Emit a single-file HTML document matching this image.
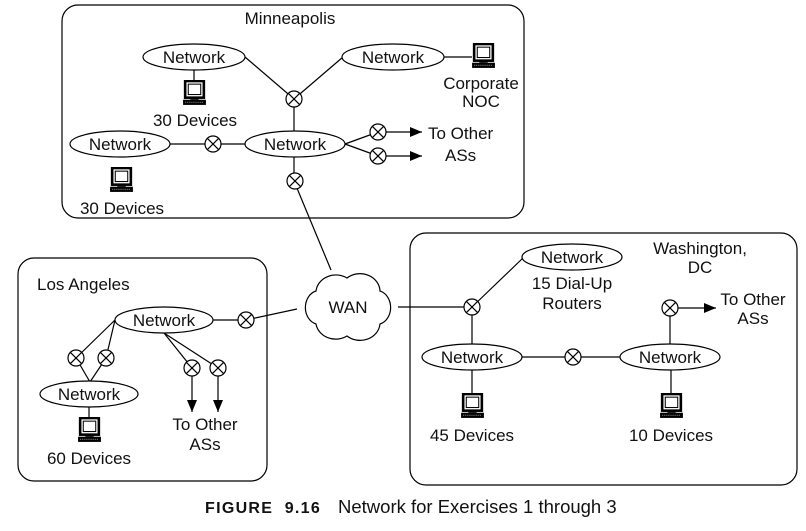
<!DOCTYPE html>
<html><head><meta charset="utf-8"><style>
html,body{margin:0;padding:0;background:#fff;}
svg{display:block;}
text{font-family:"Liberation Sans",Arial,sans-serif;font-size:17px;fill:#111;}
</style></head><body>
<svg width="806" height="531" viewBox="0 0 806 531" xmlns="http://www.w3.org/2000/svg">
<defs>
<symbol id="pc" viewBox="0 0 24 26" width="25" height="27">
<rect x="3" y="1" width="18" height="16" fill="#fff" stroke="#000" stroke-width="2.5"/>
<rect x="6" y="4" width="12" height="10" fill="#fff" stroke="#000" stroke-width="1"/>
<rect x="8" y="17" width="8" height="2" fill="#000"/>
<rect x="1" y="19" width="22" height="5" fill="#000"/>
<line x1="3" y1="21.5" x2="21" y2="21.5" stroke="#888" stroke-width="1" stroke-dasharray="1 1"/>
</symbol>
<symbol id="rt" viewBox="-9 -9 18 18" width="18" height="18">
<circle r="8" fill="#fff" stroke="#000" stroke-width="1.2"/>
<line x1="-5.6" y1="-5.6" x2="5.6" y2="5.6" stroke="#000" stroke-width="1.2"/>
<line x1="-5.6" y1="5.6" x2="5.6" y2="-5.6" stroke="#000" stroke-width="1.2"/>
</symbol>
<marker id="ar" viewBox="0 0 12 12" refX="12" refY="6" markerWidth="13" markerHeight="12" markerUnits="userSpaceOnUse" orient="auto">
<path d="M0,1 L12,6 L0,11 Z" fill="#000"/>
</marker>
</defs>
<g fill="none" stroke="#000" stroke-width="1.2">
<rect x="62" y="5" width="462" height="213" rx="16"/>
<rect x="18" y="258" width="249" height="223" rx="16"/>
<rect x="410" y="233" width="387" height="252" rx="16"/>
<line x1="245" y1="57" x2="294" y2="99"/>
<line x1="343" y1="57" x2="294" y2="99"/>
<line x1="294" y1="99" x2="294" y2="181"/>
<line x1="170" y1="144" x2="245" y2="144"/>
<line x1="345" y1="144" x2="378" y2="132"/>
<line x1="345" y1="144" x2="378" y2="156"/>
<line x1="378" y1="132" x2="422" y2="132" marker-end="url(#ar)"/>
<line x1="378" y1="156" x2="422" y2="156" marker-end="url(#ar)"/>
<line x1="194" y1="70" x2="194" y2="81"/>
<line x1="444" y1="57" x2="472" y2="57"/>
<line x1="294" y1="181" x2="331" y2="270"/>
<line x1="213" y1="320" x2="246" y2="320"/>
<line x1="246" y1="320" x2="297" y2="309"/>
<line x1="115" y1="320" x2="76" y2="358"/>
<line x1="115" y1="320" x2="106" y2="358"/>
<line x1="76" y1="358" x2="90" y2="382"/>
<line x1="106" y1="358" x2="90" y2="382"/>
<line x1="164" y1="333" x2="192" y2="368"/>
<line x1="164" y1="333" x2="218" y2="368"/>
<line x1="192" y1="368" x2="192" y2="412" marker-end="url(#ar)"/>
<line x1="218" y1="368" x2="218" y2="412" marker-end="url(#ar)"/>
<line x1="89" y1="407" x2="89" y2="418"/>
<line x1="398" y1="307" x2="472" y2="307"/>
<line x1="472" y1="307" x2="523" y2="258"/>
<line x1="472" y1="307" x2="472" y2="345"/>
<line x1="522" y1="357" x2="620" y2="357"/>
<line x1="670" y1="308" x2="670" y2="345"/>
<line x1="670" y1="308" x2="716" y2="308" marker-end="url(#ar)"/>
<line x1="472" y1="370" x2="472" y2="393"/>
<line x1="671" y1="370" x2="671" y2="393"/>
<g fill="#fff">
<ellipse cx="194" cy="57" rx="51" ry="13"/>
<ellipse cx="393" cy="57" rx="51" ry="13"/>
<ellipse cx="120" cy="144" rx="50" ry="13"/>
<ellipse cx="295" cy="144" rx="50" ry="13"/>
<ellipse cx="164" cy="320" rx="49" ry="13"/>
<ellipse cx="89" cy="394" rx="49" ry="13"/>
<ellipse cx="572" cy="257" rx="50" ry="13"/>
<ellipse cx="472" cy="357" rx="50" ry="13"/>
<ellipse cx="670" cy="357" rx="50" ry="13"/>
<path d="M316,291 A20,18 0 0 1 347,278 A20,18 0 0 1 380,291 A14,17 0 0 1 380,324 A20,18 0 0 1 347,336 A20,18 0 0 1 316,324 A14,17 0 0 1 316,291 Z"/>
</g>
</g>
<use href="#rt" x="285" y="90"/>
<use href="#rt" x="204" y="135"/>
<use href="#rt" x="369" y="123"/>
<use href="#rt" x="369" y="147"/>
<use href="#rt" x="286" y="172"/>
<use href="#rt" x="237" y="311"/>
<use href="#rt" x="67" y="349"/>
<use href="#rt" x="97" y="349"/>
<use href="#rt" x="183" y="359"/>
<use href="#rt" x="209" y="359"/>
<use href="#rt" x="463" y="298"/>
<use href="#rt" x="564" y="348"/>
<use href="#rt" x="661" y="299"/>
<use href="#pc" x="182" y="80"/>
<use href="#pc" x="471" y="43"/>
<use href="#pc" x="109" y="167"/>
<use href="#pc" x="77" y="417"/>
<use href="#pc" x="460" y="393"/>
<use href="#pc" x="659" y="393"/>
<g text-anchor="middle">
<text x="290" y="24">Minneapolis</text>
<text x="194" y="63">Network</text>
<text x="393" y="63">Network</text>
<text x="120" y="150">Network</text>
<text x="295" y="150">Network</text>
<text x="195" y="126">30 Devices</text>
<text x="122" y="214">30 Devices</text>
<text x="481" y="89">Corporate</text>
<text x="481" y="107">NOC</text>
<text x="164" y="326">Network</text>
<text x="89" y="400">Network</text>
<text x="89" y="464">60 Devices</text>
<text x="205" y="430">To Other</text>
<text x="205" y="450">ASs</text>
<text x="348" y="313">WAN</text>
<text x="572" y="263">Network</text>
<text x="472" y="363">Network</text>
<text x="670" y="363">Network</text>
<text x="572" y="289">15 Dial-Up</text>
<text x="572" y="309">Routers</text>
<text x="700" y="254">Washington,</text>
<text x="700" y="273">DC</text>
<text x="472" y="441">45 Devices</text>
<text x="671" y="441">10 Devices</text>
<text x="753" y="305">To Other</text>
<text x="753" y="324">ASs</text>
</g>
<text x="428" y="139">To Other</text>
<text x="445" y="161">ASs</text>
<text x="37" y="290">Los Angeles</text>
<text x="205" y="513" style="font-weight:bold;font-size:16px;letter-spacing:1.3px">FIGURE&#160; 9.16</text>
<text x="338" y="513" style="font-size:18.5px">Network for Exercises 1 through 3</text>
</svg>
</body></html>
